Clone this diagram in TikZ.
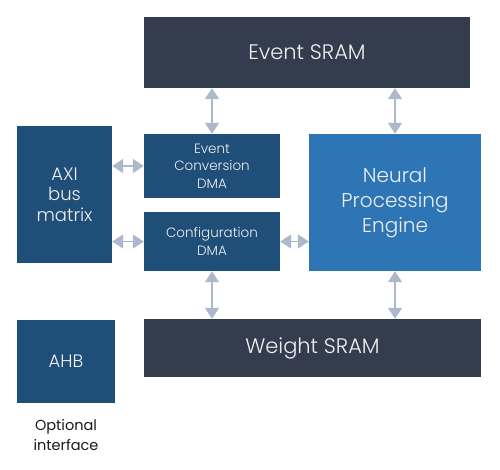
\documentclass[tikz,border=0pt]{standalone}
\usepackage{fontspec}
\setmainfont{Poppins Light}
\newfontfamily\notefont{Poppins}
\usepackage{tikz, xcolor}
\usetikzlibrary{shapes,arrows.meta}

\definecolor{sramgray}{HTML}{343D4E}
\definecolor{dmablue}{HTML}{1F4E79}
\definecolor{npeblue}{HTML}{2E75B6}
\definecolor{linkgray}{HTML}{ADB9CA}

\begin{document}
\begin{tikzpicture}[x=1pt, y=-1pt]
\tikzstyle{blockd}=[rectangle, fill=dmablue, text=white!94!black, inner sep=0pt, align=center]
\tikzstyle{blocks}=[rectangle, fill=sramgray, text=white!94!black, inner sep=0pt, align=center]
\tikzstyle{blockn}=[rectangle, fill=npeblue, text=white!94!black, inner sep=0pt, align=center]
\tikzstyle{drawstyle}=[draw=linkgray, line width=1.5pt, {Triangle[width=14pt,length=11pt]}-{Triangle[width=14pt,length=11pt]}]

\useasboundingbox (0,0) rectangle (500,469);

\node[blocks, minimum width=326pt, minimum height=71pt, font=\fontsize{21}{25}\selectfont] (evsram) at (307,52.5) {Event SRAM};
\node[blockd, minimum width=95pt, minimum height=137pt, font=\fontsize{18}{20.5}\selectfont] (axi) at (64.5,194.5) {AXI\\bus\\matrix};
\node[blockd, minimum width=136pt, minimum height=64pt, font=\fontsize{13.5}{17.5}\selectfont] (ecdma) at (212,166) {Event\\Conversion\\DMA};
\node[blockd, minimum width=136pt, minimum height=59pt, font=\fontsize{13.5}{17.5}\selectfont] (confdma) at (212,241.5) {Configuration\\DMA};
\node[blockn, minimum width=172pt, minimum height=137pt, font=\fontsize{20}{25}\selectfont] (npe) at (395,202.5) {Neural\\Processing\\Engine};
\node[blocks, minimum width=337pt, minimum height=58pt, font=\fontsize{21}{25}\selectfont] (wsram) at (312.5,348) {Weight SRAM};
\node[blockd, minimum width=98pt, minimum height=83pt, font=\fontsize{18}{20}\selectfont] (ahb) at (66,361.5) {AHB};
\node[align=center, inner sep=0pt, text=black!90, font=\notefont\fontsize{14.5}{20}\selectfont] (optif) at (66,435) {Optional\\interface};

\draw[drawstyle] (ecdma.north) -- (ecdma.north |- evsram.south);
\draw[drawstyle] (npe.north) -- (npe.north |- evsram.south);
\draw[drawstyle] (axi.east |- ecdma.west) -- (ecdma.west);
\draw[drawstyle] (axi.east |- confdma.west) -- (confdma.west);
\draw[drawstyle] (confdma.east) -- (npe.west |- confdma.east);
\draw[drawstyle] (confdma.south) -- (confdma.south |- wsram.north);
\draw[drawstyle] (npe.south) -- (npe.south |- wsram.north);
\end{tikzpicture}
\end{document}
